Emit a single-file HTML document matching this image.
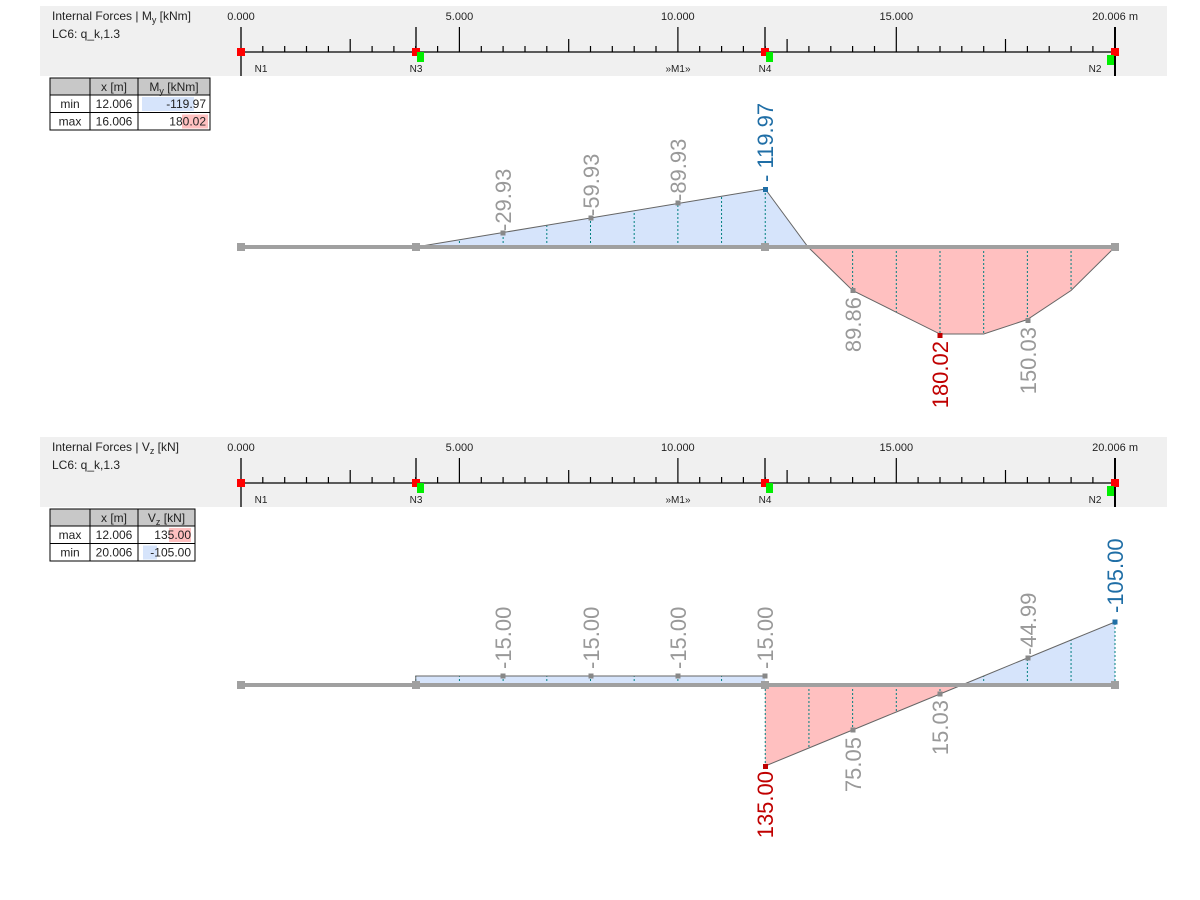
<!DOCTYPE html>
<html><head><meta charset="utf-8"><style>
body{margin:0;background:#fff;width:1200px;height:900px;overflow:hidden}
svg{display:block;font-family:"Liberation Sans",sans-serif}
</style></head><body>
<svg id="s" width="1200" height="900" xmlns="http://www.w3.org/2000/svg"></svg>
<script>
const S=document.getElementById('s');let h='';
const X=m=>241+m*(874/20.006);
function header(y0,title,sub){
 h+=`<rect x="40" y="${y0}" width="1127" height="70" fill="#f0f0f0"/>`;
 h+=`<text x="52" y="${y0+14}" font-size="12" fill="#222">${title}</text>`;
 h+=`<text x="52" y="${y0+32}" font-size="12" fill="#222">LC6: q_k,1.3</text>`;
 const b=y0+46;
 h+=`<line x1="241" y1="${b}" x2="1115" y2="${b}" stroke="#000" stroke-width="1.3"/>`;
 for(let i=1;i<40;i++){let m=i*0.5,x=X(m).toFixed(1);let t=(i%10==0)?b-25:(i%5==0)?b-13:b-6;
  h+=`<line x1="${x}" y1="${t}" x2="${x}" y2="${b}" stroke="#000" stroke-width="1.2"/>`;}
 [[0,'0.000'],[5,'5.000'],[10,'10.000'],[15,'15.000']].forEach(([m,t])=>h+=`<text x="${X(m)}" y="${y0+14}" font-size="11" text-anchor="middle" fill="#222">${t}</text>`);
 h+=`<text x="1138" y="${y0+14}" font-size="11" text-anchor="end" fill="#222">20.006 m</text>`;
 h+=`<line x1="241" y1="${b-25}" x2="241" y2="${y0+70}" stroke="#000" stroke-width="1.3"/>`;
 h+=`<line x1="1115" y1="${b-25}" x2="1115" y2="${y0+70}" stroke="#000" stroke-width="2"/>`;
 [416,765].forEach(x=>h+=`<line x1="${x}" y1="${b-25}" x2="${x}" y2="${b}" stroke="#000" stroke-width="1.3"/>`);
 [241,416,765,1115].forEach(x=>h+=`<rect x="${x-4}" y="${b-4}" width="8" height="8" fill="#f00"/>`);
 h+=`<rect x="417" y="${b}" width="7" height="10" fill="#0e0"/><rect x="766" y="${b}" width="7" height="10" fill="#0e0"/><rect x="1107" y="${b+3}" width="7" height="10" fill="#0e0"/>`;
 [[261,'N1'],[416,'N3'],[678,'»M1»'],[765,'N4'],[1095,'N2']].forEach(([x,t])=>h+=`<text x="${x}" y="${b+20}" font-size="10" text-anchor="middle" fill="#222">${t}</text>`);
}
function table(y0,w3,hd,rows){
 const xs=[50,90,138,138+w3];
 h+=`<rect x="50" y="${y0}" width="${xs[3]-50}" height="17" fill="#c8c8c8"/>`;
 rows.forEach((r,i)=>{const y=y0+17+i*17.5;
  h+=`<rect x="${r[3]}" y="${y+2}" width="${r[4]}" height="14" fill="${r[5]}"/>`;
  h+=`<text x="70" y="${y+13}" font-size="12" text-anchor="middle" fill="#222">${r[0]}</text><text x="114" y="${y+13}" font-size="12" text-anchor="middle" fill="#222">${r[1]}</text><text x="${xs[3]-4}" y="${y+13}" font-size="12" text-anchor="end" fill="#222">${r[2]}</text>`;});
 const H=17+2*17.5;
 h+=`<rect x="50" y="${y0}" width="${xs[3]-50}" height="${H}" fill="none" stroke="#000"/>`;
 h+=`<line x1="50" y1="${y0+17}" x2="${xs[3]}" y2="${y0+17}" stroke="#000"/><line x1="50" y1="${y0+34.5}" x2="${xs[3]}" y2="${y0+34.5}" stroke="#000"/>`;
 [90,138].forEach(x=>h+=`<line x1="${x}" y1="${y0}" x2="${x}" y2="${y0+H}" stroke="#000"/>`);
 h+=`<text x="114" y="${y0+13}" font-size="12" text-anchor="middle" fill="#222">x [m]</text><text x="${(138+xs[3])/2}" y="${y0+13}" font-size="12" text-anchor="middle" fill="#222">${hd}</text>`;
}
function poly(pts,fill){
 h+=`<polygon points="${pts.map(p=>p.join(',')).join(' ')}" fill="${fill}" stroke="none"/>`;
}
function dashes(list,base){list.forEach(([x,y])=>h+=`<line x1="${x}" y1="${base}" x2="${x}" y2="${y}" stroke="#008080" stroke-dasharray="2,2"/>`);}
function lbl(x,y,t,c,anchor){h+=`<text transform="translate(${x+8},${y}) rotate(-90)" font-size="22" fill="${c}" text-anchor="${anchor}">${t}</text>`;}
function beam(b){h+=`<line x1="241" y1="${b}" x2="1115" y2="${b}" stroke="#a0a0a0" stroke-width="4"/>`;
 [241,416,765,1115].forEach(x=>h+=`<rect x="${x-4}" y="${b-4}" width="8" height="8" fill="#a0a0a0"/>`);}
const G='#999',B='#1f6ea6',R='#c00000';
// ---- My
header(6,'Internal Forces | M<tspan font-size="9" dy="3">y</tspan><tspan dy="-3"> [kNm]</tspan>');
table(78,72,'M<tspan font-size="9" dy="3">y</tspan><tspan dy="-3"> [kNm]</tspan>',[['min','12.006','-119.97',142,52,'#d6e4fb'],['max','16.006','180.02',182,26,'#ffc0c0']]);
let b=247,k=58/119.97;
let neg=[];for(let m=4;m<=12;m++)neg.push([X(m),b-(m-4)*15*k]);
poly([[X(4),b],...neg,[808,b]],'#d6e4fb');
let Mv=[[13,0],[14,89.86],[15,135],[16,180.02],[17,180.02],[18,150.03],[19,90],[20.006,0]];
let pos=Mv.map(([m,v])=>[X(m),b+v*k]);
poly([[808,b],...pos.slice(1)],'#ffc0c0');
dashes(neg.slice(1),b);dashes(pos.slice(1,-1),b);
h+=`<polyline points="${[[X(4),b],...neg,[808,b],...pos.slice(1)].map(p=>p.join(',')).join(' ')}" fill="none" stroke="#666" stroke-width="1"/>`;
beam(b);
[[503,233],[591,218],[678,203]].forEach(p=>h+=`<rect x="${p[0]-2.5}" y="${p[1]-2.5}" width="5" height="5" fill="#888"/>`);
h+=`<rect x="763" y="187" width="5" height="5" fill="${B}"/><rect x="850.5" y="288" width="5" height="5" fill="#888"/><rect x="1025.5" y="318" width="5" height="5" fill="#888"/><rect x="937.5" y="333" width="5" height="5" fill="${R}"/>`;
lbl(503,231,'-29.93',G,'start');lbl(591,216,'-59.93',G,'start');lbl(678,201,'-89.93',G,'start');lbl(765,182,'- 119.97',B,'start');
lbl(853,297,'89.86',G,'end');lbl(940,341,'180.02',R,'end');lbl(1028,327,'150.03',G,'end');
// ---- Vz
header(437,'Internal Forces | V<tspan font-size="9" dy="3">z</tspan><tspan dy="-3"> [kN]</tspan>');
table(509,57,'V<tspan font-size="9" dy="3">z</tspan><tspan dy="-3"> [kN]</tspan>',[['max','12.006','135.00',169,22,'#ffc0c0'],['min','20.006','-105.00',143,14,'#d6e4fb']]);
b=685;k=0.6;
poly([[X(4),b],[X(4),676],[765,676],[765,b]],'#d6e4fb');
let vr=[];for(let m=12;m<=16;m++)vr.push([X(m),b+(135-30*(m-12))*k]);
poly([[765,b],...vr,[962,b]],'#ffc0c0');
let vb=[];for(let m=17;m<=20;m++)vb.push([X(m),b+(135-30*(m-12))*k]);vb[3]=[1115,622];
poly([[962,b],...vb,[1115,b]],'#d6e4fb');
dashes([[X(4),676],[X(5),676],[X(6),676],[X(7),676],[X(8),676],[X(9),676],[X(10),676],[X(11),676]],b);
dashes(vr,b);dashes(vb,b);
h+=`<polyline points="${X(4)},${b} ${X(4)},676 765,676" fill="none" stroke="#666"/>`;
h+=`<polyline points="${[...vr,...vb].map(p=>p.join(',')).join(' ')}" fill="none" stroke="#666"/>`;
beam(b);
[503,591,678,765].forEach(x=>h+=`<rect x="${x-2.5}" y="673.5" width="5" height="5" fill="#888"/>`);
h+=`<rect x="763" y="764" width="5" height="5" fill="${R}"/><rect x="1112.5" y="619.5" width="5" height="5" fill="${B}"/><rect x="850.5" y="727.5" width="5" height="5" fill="#888"/><rect x="937.5" y="691.5" width="5" height="5" fill="#888"/><rect x="1025.5" y="655.5" width="5" height="5" fill="#888"/>`;
[503,591,678,765].forEach(x=>lbl(x,669,'-15.00',G,'start'));
lbl(1028,655,'-44.99',G,'start');lbl(1115,613,'-105.00',B,'start');
lbl(765,771,'135.00',R,'end');lbl(853,737,'75.05',G,'end');lbl(940,700,'15.03',G,'end');
S.innerHTML=h;
</script>
</body></html>
